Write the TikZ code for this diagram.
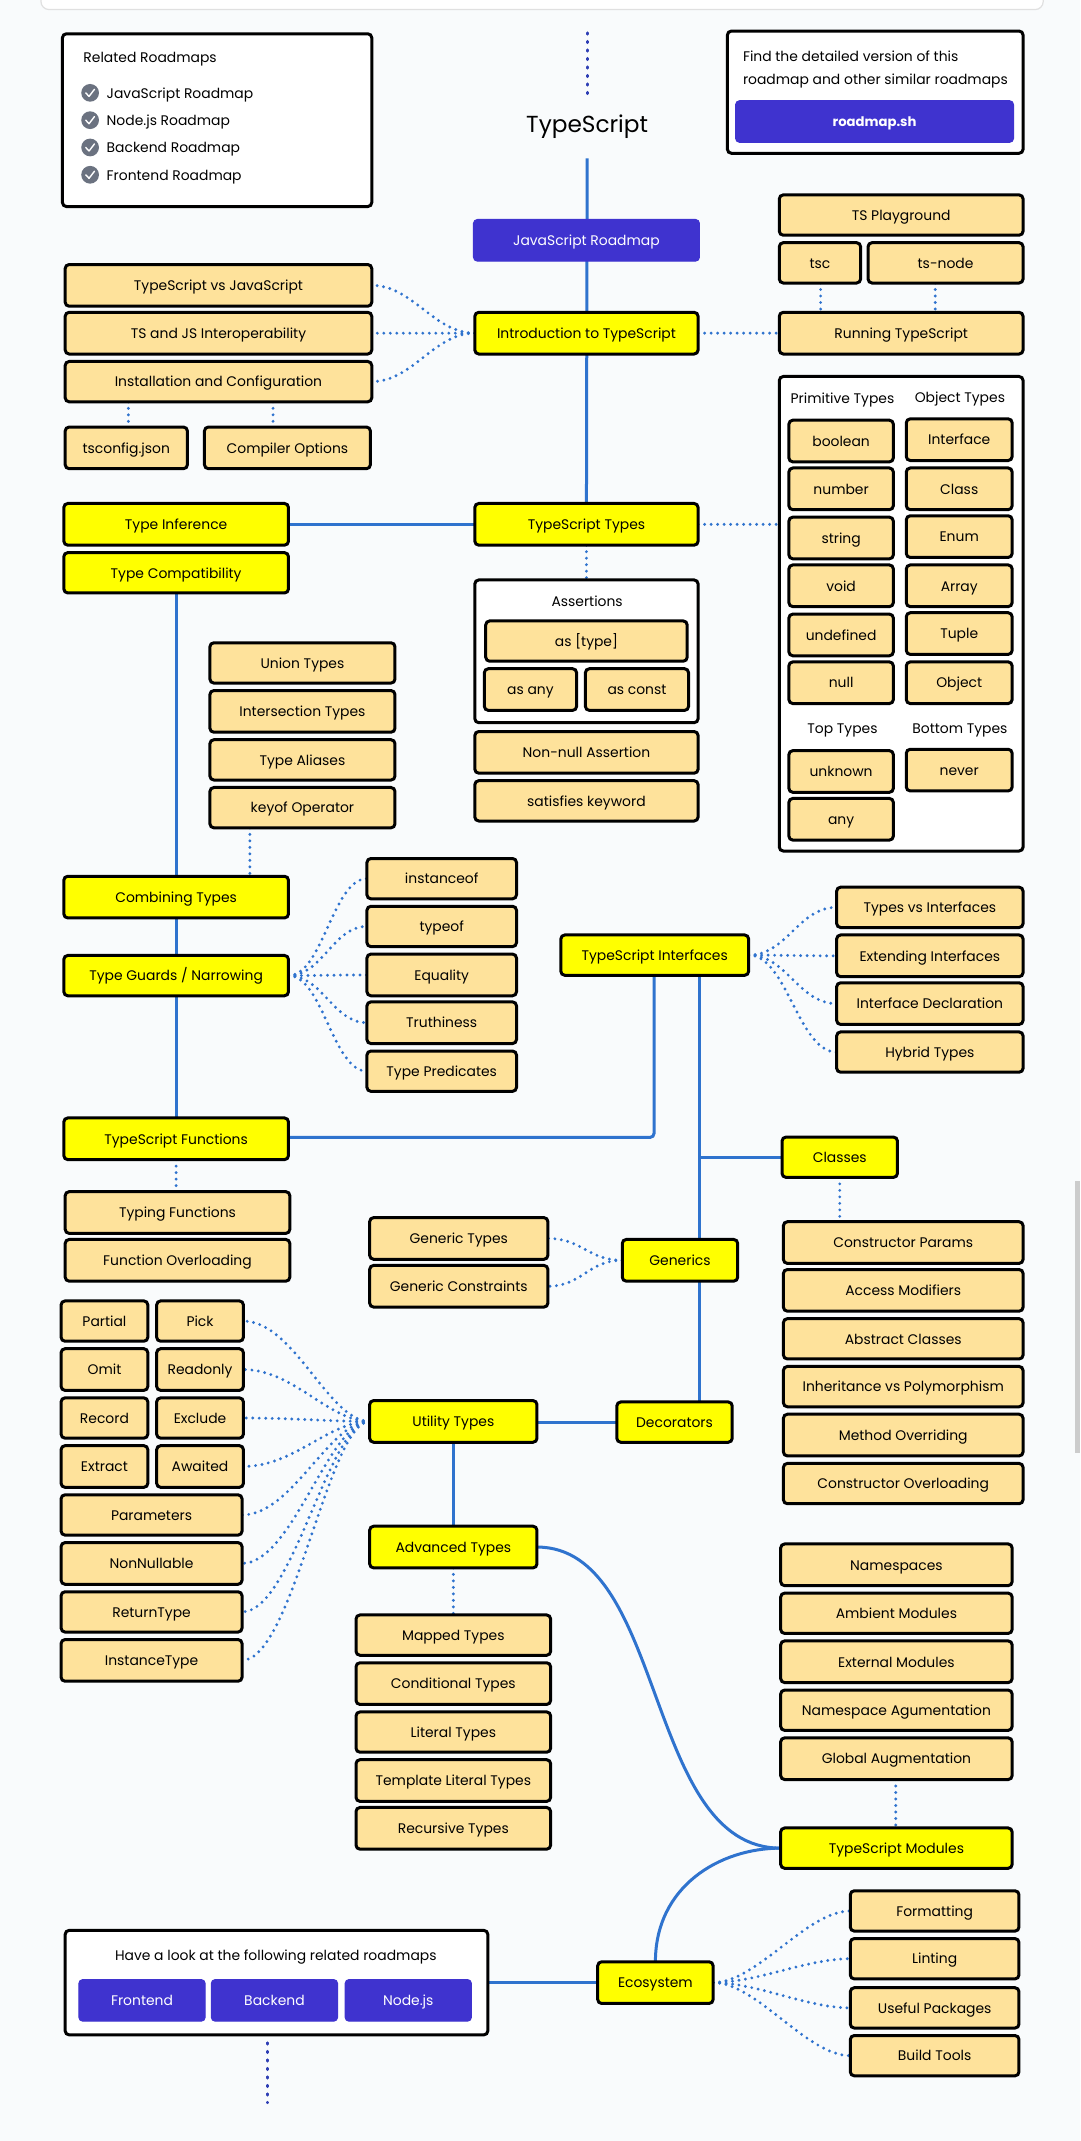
\documentclass[tikz,border=0pt]{standalone}
\usepackage{fontspec}
\setmainfont{Poppins}
\usetikzlibrary{backgrounds}
\definecolor{pagebg}{HTML}{F9FBFC}
\definecolor{boxor}{HTML}{FEE29B}
\definecolor{boxye}{HTML}{FFFF00}
\definecolor{purp}{HTML}{3F33CF}
\definecolor{linkb}{HTML}{2F73CE}
\definecolor{dotv}{HTML}{2F3FB5}
\definecolor{chk}{HTML}{6B7280}
\tikzset{
  x=1.3654pt,y=-1.3654pt,
  base/.style={rectangle,rounded corners=4pt,line width=3pt,draw=black,inner sep=0pt,outer sep=0pt,
    font=\fontsize{13.9}{16}\selectfont,text height=11.5pt,text depth=1pt,align=center},
  orbox/.style={base,fill=boxor},
  yebox/.style={base,fill=boxye},
  whbox/.style={base,fill=white},
  pubox/.style={base,fill=purp,draw=purp,text=white,line width=1pt},
  lbl/.style={font=\fontsize{13.9}{16}\selectfont,inner sep=0pt,text height=11.5pt,text depth=1pt},
  solidl/.style={draw=linkb,line width=3pt},
  dotl/.style={draw=linkb,line width=3.2pt,line cap=round,dash pattern=on 0pt off 6.5pt},
  dotv/.style={draw=dotv,line width=2.8pt,line cap=round,dash pattern=on 1.5pt off 7pt},
}
\newcommand{\bx}[6]{%
  \pgfmathsetmacro\bw{(#5-#3)*1.3654-2}%
  \pgfmathsetmacro\bh{(#6-#4)*1.3654-2}%
  \node[#1,minimum width=\bw pt,minimum height=\bh pt] (#2) at ({(#3+#5)/2},{(#4+#6)/2})}
\newcommand{\chkitem}[3]{%
  \fill[chk] (66,#2) circle (6.5);
  \draw[white,line width=1.4pt,line cap=round,line join=round] (62.8,#2) -- (65.2,#2+2.6) -- (69.2,#2-2.6);
  \node[lbl,anchor=west] (#1) at (78,#2) {#3};}
\begin{document}
\begin{tikzpicture}
\useasboundingbox (0,0) rectangle (791,1568);
% top-level boxes
\bx{whbox}{rel}{45}{24}{273}{152} {};
\node[lbl,anchor=west] (relt) at (61,42) {Related Roadmaps};
\chkitem{i1}{68}{JavaScript Roadmap}
\chkitem{i2}{88}{Node.js Roadmap}
\chkitem{i3}{108}{Backend Roadmap}
\chkitem{i4}{128}{Frontend Roadmap}
\bx{whbox}{find}{532}{22}{750}{113} {};
\node[lbl,anchor=west] (f1) at (544,41) {Find the detailed version of this};
\node[lbl,anchor=west] (f2) at (544,58) {roadmap and other similar roadmaps};
\bx{pubox}{rmsh}{538}{73}{743}{105} {\fontsize{13.2}{16}\selectfont\textbf{roadmap.sh}};
\node[font=\fontsize{23.2}{28}\selectfont,inner sep=0pt] (title) at (430,93) {TypeScript};
\coordinate (topa) at (430,24); \coordinate (topb) at (430,72); \coordinate (topc) at (430,116);
\bx{pubox}{jsr}{346}{160}{513}{192} {JavaScript Roadmap};
\bx{yebox}{intro}{347}{228}{512}{260} {Introduction to TypeScript};
\bx{orbox}{tsvs}{47}{193}{273}{225} {TypeScript vs JavaScript};
\bx{orbox}{tsjs}{47}{228}{273}{260} {TS and JS Interoperability};
\bx{orbox}{inst}{47}{264}{273}{295} {Installation and Configuration};
\bx{orbox}{tscfg}{47}{312}{138}{344} {tsconfig.json};
\bx{orbox}{copt}{149}{312}{272}{344} {Compiler Options};
\bx{orbox}{play}{570}{142}{750}{173} {TS Playground};
\bx{orbox}{tsc}{570}{177}{631}{208} {tsc};
\bx{orbox}{tsnode}{635}{177}{750}{208} {ts-node};
\bx{orbox}{run}{570}{228}{750}{260} {Running TypeScript};
% types panel
\bx{whbox}{typanel}{570}{275}{750}{624} {};
\node[lbl] (lprim) at (617,292) {Primitive Types};
\node[lbl] (lobj) at (703,291) {Object Types};
\bx{orbox}{boolean}{577}{307}{655}{339} {boolean};
\bx{orbox}{iface}{663}{306}{742}{338} {Interface};
\bx{orbox}{number}{577}{342}{655}{374} {number};
\bx{orbox}{class}{663}{342}{742}{374} {Class};
\bx{orbox}{string}{577}{378}{655}{410} {string};
\bx{orbox}{enum}{663}{377}{742}{409} {Enum};
\bx{orbox}{void}{577}{413}{655}{445} {void};
\bx{orbox}{array}{663}{413}{742}{445} {Array};
\bx{orbox}{undef}{577}{449}{655}{481} {undefined};
\bx{orbox}{tuple}{663}{448}{742}{480} {Tuple};
\bx{orbox}{null}{577}{484}{655}{516} {null};
\bx{orbox}{object}{663}{484}{742}{516} {Object};
\node[lbl] (ltop) at (617,533) {Top Types};
\node[lbl] (lbot) at (703,533) {Bottom Types};
\bx{orbox}{unknown}{577}{549}{655}{581} {unknown};
\bx{orbox}{never}{663}{548}{742}{580} {never};
\bx{orbox}{any}{577}{584}{655}{616} {any};
% center
\bx{yebox}{tstypes}{347}{368}{512}{400} {TypeScript Types};
\bx{yebox}{infer}{46}{368}{212}{400} {Type Inference};
\bx{yebox}{compat}{46}{404}{212}{435} {Type Compatibility};
\bx{whbox}{assert}{347}{424}{512}{530} {};
\node[lbl] (lass) at (430,440) {Assertions};
\bx{orbox}{astype}{355}{454}{504}{485} {as [type]};
\bx{orbox}{asany}{354}{489}{423}{521} {as any};
\bx{orbox}{asconst}{428}{489}{505}{521} {as const};
\bx{orbox}{nonnull}{347}{535}{512}{567} {Non-null Assertion};
\bx{orbox}{satisf}{347}{571}{512}{602} {satisfies keyword};
\bx{orbox}{union}{153}{470}{290}{501} {Union Types};
\bx{orbox}{inters}{153}{505}{290}{537} {Intersection Types};
\bx{orbox}{alias}{153}{541}{290}{572} {Type Aliases};
\bx{orbox}{keyof}{153}{576}{290}{607} {keyof Operator};
\bx{yebox}{combin}{46}{641}{212}{673} {Combining Types};
\bx{yebox}{guards}{46}{699}{212}{730} {Type Guards / Narrowing};
\bx{orbox}{instof}{268}{628}{379}{659} {instanceof};
\bx{orbox}{typeofb}{268}{663}{379}{694} {typeof};
\bx{orbox}{equal}{268}{698}{379}{730} {Equality};
\bx{orbox}{truth}{268}{733}{379}{765} {Truthiness};
\bx{orbox}{pred}{268}{769}{379}{800} {Type Predicates};
\bx{yebox}{ifaces}{410}{684}{549}{715} {TypeScript Interfaces};
\bx{orbox}{tvi}{612}{649}{750}{680} {Types vs Interfaces};
\bx{orbox}{exti}{612}{684}{750}{716} {Extending Interfaces};
\bx{orbox}{decli}{612}{719}{750}{751} {Interface Declaration};
\bx{orbox}{hybr}{612}{755}{750}{786} {Hybrid Types};
\bx{yebox}{funcs}{46}{818}{212}{850} {TypeScript Functions};
\bx{orbox}{typf}{47}{872}{213}{904} {Typing Functions};
\bx{orbox}{fover}{47}{907}{213}{939} {Function Overloading};
\bx{yebox}{classes}{572}{832}{658}{863} {Classes};
\bx{orbox}{cparam}{573}{894}{750}{926} {Constructor Params};
\bx{orbox}{access}{573}{929}{750}{961} {Access Modifiers};
\bx{orbox}{abstr}{573}{965}{750}{996} {Abstract Classes};
\bx{orbox}{inher}{573}{1000}{750}{1031} {Inheritance vs Polymorphism};
\bx{orbox}{method}{573}{1035}{750}{1067} {Method Overriding};
\bx{orbox}{cover}{573}{1071}{750}{1102} {Constructor Overloading};
\bx{yebox}{generics}{455}{907}{541}{939} {Generics};
\bx{orbox}{gent}{270}{891}{402}{923} {Generic Types};
\bx{orbox}{genc}{270}{926}{402}{958} {Generic Constraints};
\bx{yebox}{decor}{451}{1026}{537}{1057} {Decorators};
\bx{yebox}{util}{270}{1025}{394}{1057} {Utility Types};
\bx{orbox}{partial}{44}{952}{109}{983} {Partial};
\bx{orbox}{pick}{114}{952}{179}{983} {Pick};
\bx{orbox}{omit}{44}{987}{109}{1019} {Omit};
\bx{orbox}{readonly}{114}{987}{179}{1019} {Readonly};
\bx{orbox}{record}{44}{1023}{109}{1054} {Record};
\bx{orbox}{exclude}{114}{1023}{179}{1054} {Exclude};
\bx{orbox}{extract}{44}{1058}{109}{1090} {Extract};
\bx{orbox}{awaited}{114}{1058}{179}{1090} {Awaited};
\bx{orbox}{params}{44}{1094}{178}{1125} {Parameters};
\bx{orbox}{nonn}{44}{1129}{178}{1161} {NonNullable};
\bx{orbox}{rett}{44}{1165}{178}{1196} {ReturnType};
\bx{orbox}{instt}{44}{1200}{178}{1232} {InstanceType};
\bx{yebox}{advan}{270}{1117}{394}{1149} {Advanced Types};
\bx{orbox}{mapped}{260}{1182}{404}{1213} {Mapped Types};
\bx{orbox}{condt}{260}{1217}{404}{1249} {Conditional Types};
\bx{orbox}{litt}{260}{1253}{404}{1284} {Literal Types};
\bx{orbox}{templ}{260}{1288}{404}{1320} {Template Literal Types};
\bx{orbox}{recur}{260}{1323}{404}{1355} {Recursive Types};
\bx{orbox}{nspace}{571}{1130}{742}{1162} {Namespaces};
\bx{orbox}{ambient}{571}{1166}{742}{1197} {Ambient Modules};
\bx{orbox}{extm}{571}{1201}{742}{1233} {External Modules};
\bx{orbox}{nsaug}{571}{1237}{742}{1268} {Namespace Agumentation};
\bx{orbox}{glob}{571}{1272}{742}{1304} {Global Augmentation};
\bx{yebox}{modules}{571}{1338}{742}{1369} {TypeScript Modules};
\bx{yebox}{eco}{437}{1436}{523}{1468} {Ecosystem};
\bx{orbox}{fmt}{622}{1384}{747}{1415} {Formatting};
\bx{orbox}{lint}{622}{1419}{747}{1450} {Linting};
\bx{orbox}{useful}{622}{1455}{747}{1486} {Useful Packages};
\bx{orbox}{build}{622}{1490}{747}{1521} {Build Tools};
\bx{whbox}{look}{47}{1413}{358}{1491} {};
\node[lbl] (looklbl) at (202,1432) {Have a look at the following related roadmaps};
\bx{pubox}{fe}{57}{1449}{151}{1481} {Frontend};
\bx{pubox}{be}{154}{1449}{248}{1481} {Backend};
\bx{pubox}{nd}{252}{1449}{346}{1481} {Node.js};
\coordinate (bota) at (196,1496); \coordinate (botb) at (196,1540);
% connectors behind
\begin{scope}[on background layer]
\fill[pagebg] (0,0) rectangle (791,1568);
\fill[white,draw=black!12,line width=1.2pt,rounded corners=8pt] (30,-20) rectangle (764,7);
\fill[black!20] (787,865) rectangle (791,1064);
\draw[dotv] (topa) -- (topb);
\draw[dotv] (bota) -- (botb);
\draw[solidl] (topc) -- (tstypes.north);
\draw[solidl] (infer.east) -- (tstypes.west);
\draw[solidl] (compat.south) -- (funcs.north);
\draw[solidl,rounded corners=4pt] (ifaces.south -| 479,0) -- (479,833) -- (funcs.east |- 0,833);
\draw[solidl] (ifaces.south -| 512,0) -- (decor.north -| 512,0);
\draw[solidl] (classes.west -| 512,0) -- (classes.west);
\draw[solidl] (util.east |- decor.west) -- (decor.west);
\draw[solidl] (util.south) -- (advan.north);
\draw[solidl] (look.east |- eco.west) -- (eco.west);
\draw[solidl] (advan.east) .. controls +(95,0) and +(-100,0) .. (modules.west);
\draw[solidl] (eco.north) .. controls +(0,-55) and +(-45,0) .. (modules.west);
\foreach \t in {tsvs,tsjs,inst} \draw[dotl] (intro.west) .. controls +(-30,0) and +(30,0) .. (\t.east);
\draw[dotl] (intro.east) -- (run.west);
\draw[dotl] (tsc.south -| 601,0) -- (run.north -| 601,0);
\draw[dotl] (tsnode.south -| 685,0) -- (run.north -| 685,0);
\draw[dotl] (inst.south -| 94,0) -- (tscfg.north -| 94,0);
\draw[dotl] (inst.south -| 200,0) -- (copt.north -| 200,0);
\draw[dotl] (tstypes.east) -- (typanel.west |- tstypes.east);
\draw[dotl] (tstypes.south) -- (assert.north);
\draw[dotl] (keyof.south -| 183,0) -- (combin.north -| 183,0);
\foreach \t in {instof,typeofb,equal,truth,pred} \draw[dotl] (guards.east) .. controls +(25,0) and +(-25,0) .. (\t.west);
\foreach \t in {tvi,exti,decli,hybr} \draw[dotl] (ifaces.east) .. controls +(28,0) and +(-28,0) .. (\t.west);
\draw[dotl] (funcs.south) -- (typf.north -| funcs.south);
\draw[dotl] (classes.south) -- (cparam.north -| classes.south);
\foreach \t in {gent,genc} \draw[dotl] (generics.west) .. controls +(-25,0) and +(25,0) .. (\t.east);
\foreach \t in {pick,readonly,exclude,awaited,params,nonn,rett,instt} \draw[dotl] (util.west) .. controls +(-30,0) and +(37,0) .. (\t.east);
\draw[dotl] (advan.south) -- (mapped.north);
\draw[dotl] (glob.south -| 656,0) -- (modules.north -| 656,0);
\foreach \t in {fmt,lint,useful,build} \draw[dotl] (eco.east) .. controls +(32,0) and +(-32,0) .. (\t.west);
\end{scope}
\end{tikzpicture}
\end{document}
